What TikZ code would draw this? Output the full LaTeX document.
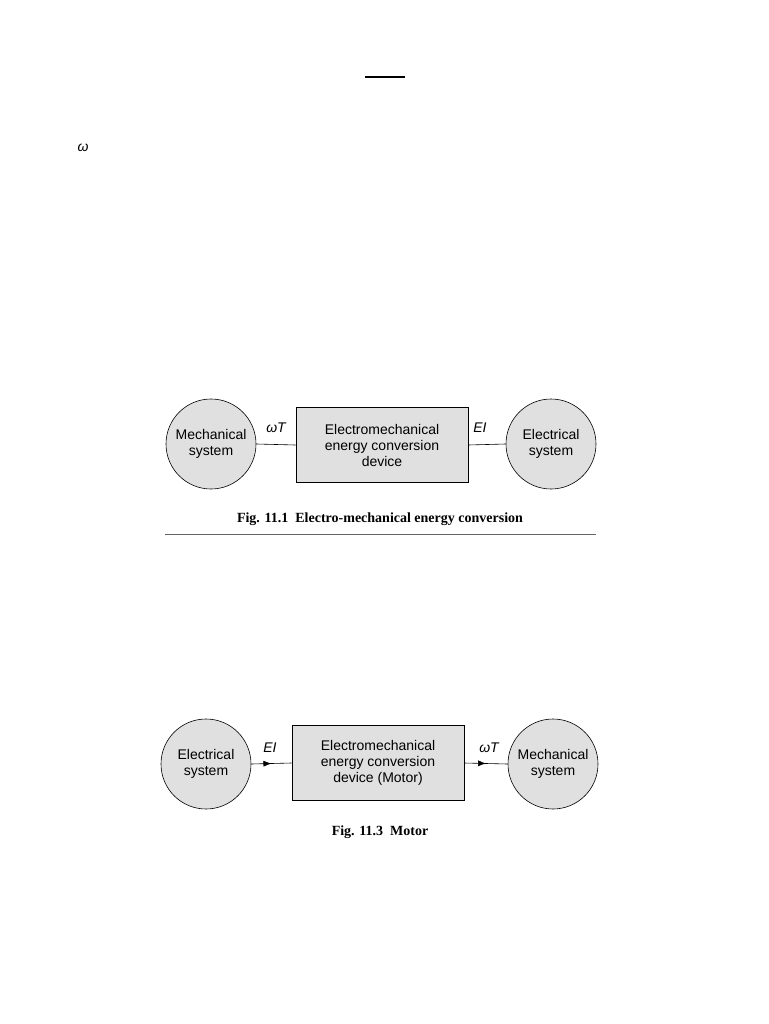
\documentclass[tikz,border=0pt]{standalone}
\usepackage{fontspec}
\setmainfont{Liberation Sans}
\newfontfamily\capfont{Liberation Serif}
\usetikzlibrary{decorations.markings,arrows.meta}
\begin{document}
\begin{tikzpicture}[x=1pt,y=-1pt,
  sys/.style={circle,draw,semithick,fill=black!12,minimum size=90pt,inner sep=0pt,align=center,font=\fontsize{14}{16}\selectfont},
  dev/.style={draw,thick,fill=black!12,minimum width=172pt,minimum height=75pt,align=center,font=\fontsize{14}{16}\selectfont},
  lbl/.style={font=\fontsize{14}{16}\selectfont\itshape},
  figcap/.style={font=\capfont\bfseries\fontsize{14}{16}\selectfont},
  arr/.style={decoration={markings,mark=at position 0.5 with {\arrow{Latex[length=8pt,width=6pt]}}},postaction={decorate}}]
\useasboundingbox (0,0) rectangle (768,1024);
\draw[line width=1.5pt] (365,77) -- (405,77);
\node[lbl] (om) at (83,148) {ω};
% Fig 11.1
\node[sys] (m1) at (211,444) {Mechanical\\system};
\node[dev] (d1) at (382,445) {Electromechanical\\energy conversion\\device};
\node[sys] (e1) at (551,444) {Electrical\\system};
\draw[semithick] (m1.east) -- (d1.west);
\draw[semithick] (d1.east) -- (e1.west);
\node[lbl] (wt1) at (276,428) {ωT};
\node[lbl] (ei1) at (480,428) {EI};
\node[figcap] (c1) at (380,519) {Fig. 11.1\ \ Electro-mechanical energy conversion};
\draw[black!60] (165,534) -- (596,534);
% Fig 11.3
\node[sys] (e3) at (206,764) {Electrical\\system};
\node[dev] (d3) at (378,763) {Electromechanical\\energy conversion\\device (Motor)};
\node[sys] (m3) at (553,764) {Mechanical\\system};
\draw[semithick,arr] (e3.east) -- (d3.west);
\draw[semithick,arr] (d3.east) -- (m3.west);
\node[lbl] (ei3) at (270,748) {EI};
\node[lbl] (wt3) at (489,748) {ωT};
\node[figcap] (c3) at (380,832) {Fig. 11.3\ \ Motor};
\end{tikzpicture}
\end{document}
